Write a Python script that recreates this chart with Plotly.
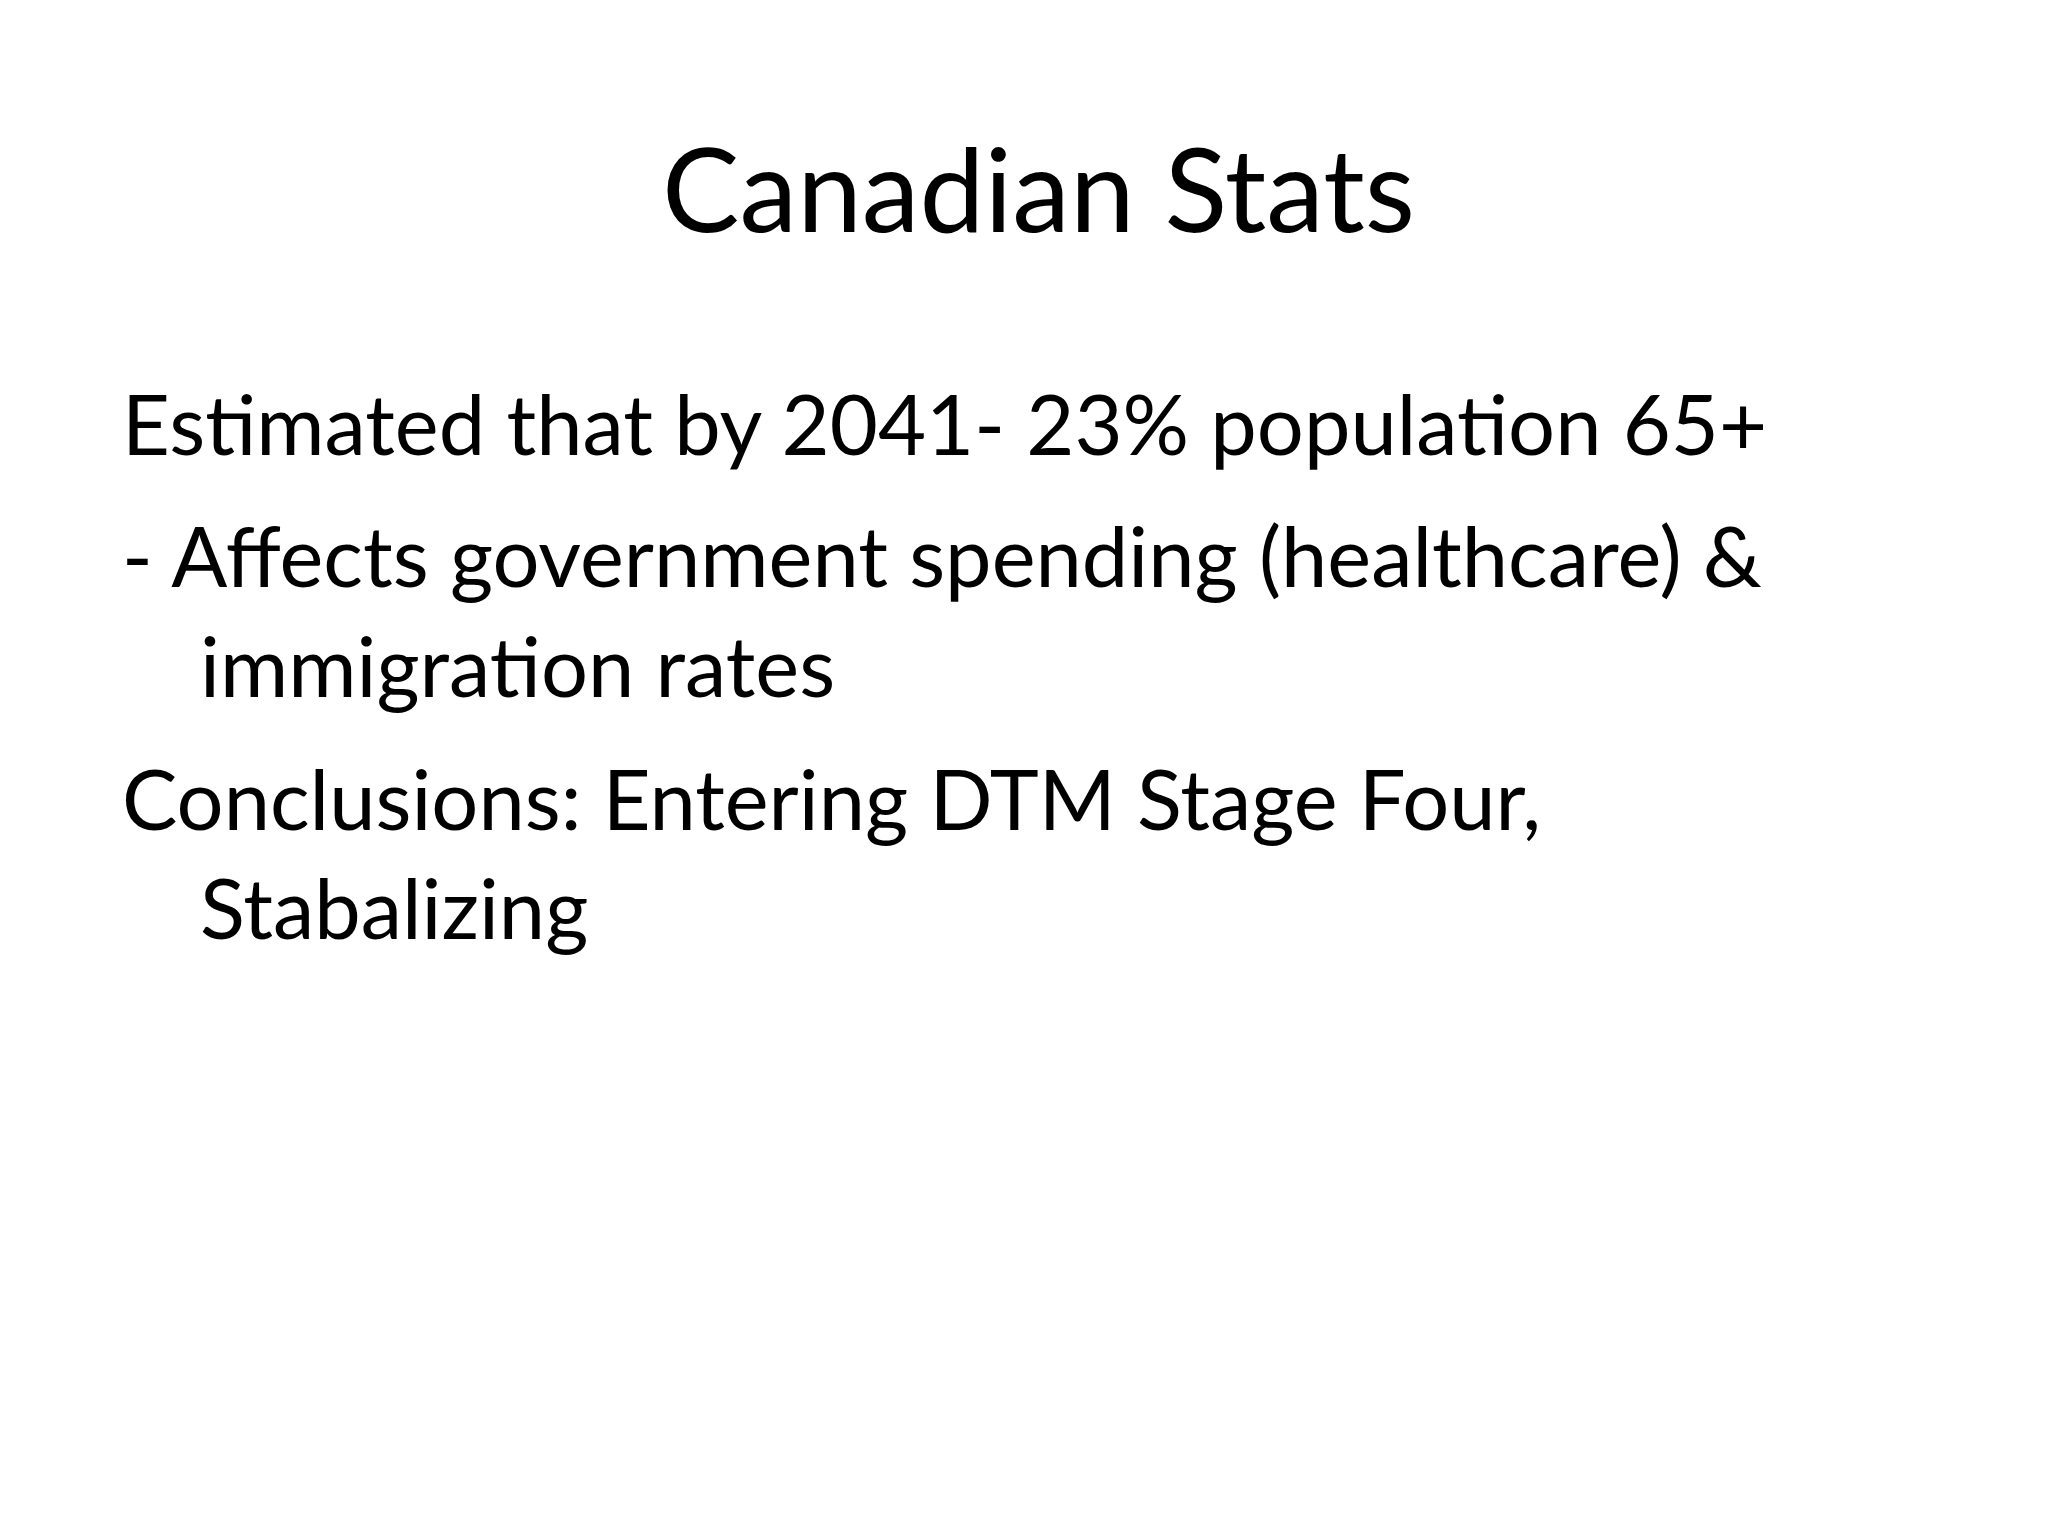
import plotly.graph_objects as go

title = "Canadian Stats"
lines = [
    "Estimated that by 2041- 23% population 65+",
    "- Affects government spending (healthcare) &",
    "immigration rates",
    "Conclusions: Entering DTM Stage Four,",
    "Stabalizing",
]
indented = [False, False, True, False, True]
# vertical centres as fraction from top of the slide
line_y = [0.270, 0.356, 0.428, 0.514, 0.585]

W, H = 2048, 1536
fig = go.Figure()

fig.add_annotation(
    text=title, x=0.503, y=1 - 0.117, xref="paper", yref="paper",
    xanchor="center", yanchor="middle", showarrow=False,
    font=dict(family="Lato", size=116, color="black"),
)

for txt, ind, yy in zip(lines, indented, line_y):
    fig.add_annotation(
        text=txt, x=(190 if ind else 112) / W, y=1 - yy,
        xref="paper", yref="paper", xanchor="left", yanchor="middle",
        showarrow=False, font=dict(family="Lato", size=83, color="black"),
    )

fig.update_layout(
    width=W, height=H,
    margin=dict(l=0, r=0, t=0, b=0),
    paper_bgcolor="white", plot_bgcolor="white",
    xaxis=dict(visible=False, range=[0, 1]),
    yaxis=dict(visible=False, range=[0, 1]),
)

fig.write_html("out.html")
